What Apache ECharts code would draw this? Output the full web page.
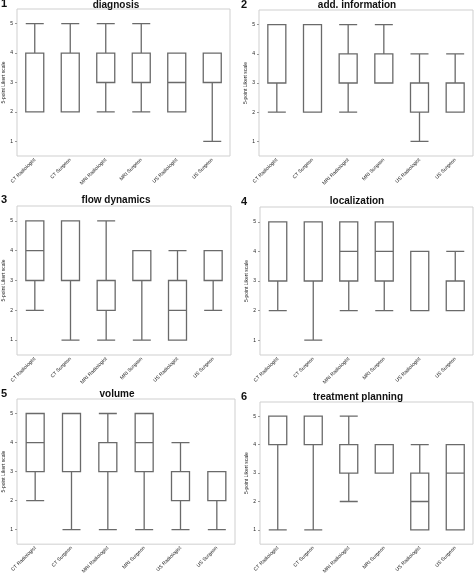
<!DOCTYPE html>
<html><head><meta charset="utf-8">
<script src="https://cdn.jsdelivr.net/npm/echarts@6/dist/echarts.min.js"></script>
<style>html,body{margin:0;padding:0;background:#fff}#c{width:474px;height:576px}</style>
</head><body><div id="c"></div>
<script>
const categories = ['CT Radiologist','CT Surgeon','MRI Radiologist','MRI Surgeon','US Radiologist','US Surgeon'];
const yTicks = [1,2,3,4,5];
const panelTitles = ['diagnosis','add. information','flow dynamics','localization','volume','treatment planning'];
const panelNumbers = ['1','2','3','4','5','6'];
// each box: [min, Q1, median, Q3, max]
const diagnosis = [[2,2,4,4,5],[2,2,4,4,5],[2,3,4,4,5],[2,3,4,4,5],[2,2,3,4,4],[1,3,4,4,4]];
const addInformation = [[2,3,5,5,5],[2,2,5,5,5],[2,3,4,4,5],[3,3,4,4,5],[1,2,3,3,4],[2,2,3,3,4]];
const flowDynamics = [[2,3,4,5,5],[1,3,5,5,5],[1,2,3,3,5],[1,3,4,4,4],[1,1,2,3,4],[2,3,4,4,4]];
const localization = [[2,3,5,5,5],[1,3,5,5,5],[2,3,4,5,5],[2,3,4,5,5],[2,2,4,4,4],[2,2,3,3,4]];
const volume = [[2,3,4,5,5],[1,3,5,5,5],[1,3,4,4,5],[1,3,4,5,5],[1,2,3,3,4],[1,2,3,3,3]];
const treatmentPlanning = [[1,4,5,5,5],[1,4,5,5,5],[2,3,4,4,5],[3,3,4,4,4],[1,1,2,3,4],[1,1,3,4,4]];
const panelData = [diagnosis, addInformation, flowDynamics, localization, volume, treatmentPlanning];

const grids = [
  {left:16, top:9, width:214, height:147},
  {left:259, top:10, width:214, height:146},
  {left:17, top:206, width:214, height:149},
  {left:260, top:207, width:213, height:148},
  {left:17, top:399, width:218, height:149},
  {left:260, top:402, width:213, height:147}
];
const titlePos = [[116,5],[357,5],[116,200],[357,201],[117,394],[358,397]];
const numPos = [[1,4],[241,5],[1,200],[241,202],[1,394],[241,397]];

const chart = echarts.init(document.getElementById('c'), null, {renderer:'canvas'});
const option = {
  animation:false,
  backgroundColor:'#fff',
  grid: grids.map(g => Object.assign({show:true, borderColor:'#cfcfcf', borderWidth:1, backgroundColor:'#fff'}, g)),
  xAxis: grids.map((g,i) => ({
    type:'category', gridIndex:i, data:categories, boundaryGap:true,
    axisLine:{show:false}, axisTick:{show:false}, splitLine:{show:false},
    axisLabel:{rotate:45, fontSize:5, color:'#222', margin:3, interval:0, fontFamily:'Liberation Sans'}
  })),
  yAxis: grids.map((g,i) => ({
    type:'value', gridIndex:i, min:0.5, max:5.5,
    name:'5-point Likert scale', nameLocation:'middle', nameGap:11, nameRotate:90,
    nameTextStyle:{fontSize:5, color:'#222', fontFamily:'Liberation Sans'},
    axisLine:{show:false}, splitLine:{show:false},
    axisTick:{show:true, length:2, lineStyle:{color:'#999'}, customValues:yTicks},
    axisLabel:{fontSize:5, color:'#222', margin:4, customValues:yTicks, fontFamily:'Liberation Sans'}
  })),
  series: panelData.map((d,i) => ({
    type:'boxplot', xAxisIndex:i, yAxisIndex:i, data:d,
    boxWidth:[18,18],
    itemStyle:{color:'#fff', borderColor:'#6a6a6a', borderWidth:1.3},
    emphasis:{disabled:true}
  })),
  graphic: [
    ...panelTitles.map((t,i) => ({
      type:'text', left:titlePos[i][0], top:titlePos[i][1],
      style:{text:t, x:0, y:0, textAlign:'center', textVerticalAlign:'middle', font:'bold 10px "Liberation Sans"', fill:'#111'}
    })),
    ...panelNumbers.map((t,i) => ({
      type:'text', x:numPos[i][0], y:numPos[i][1],
      style:{text:t, textAlign:'left', textVerticalAlign:'middle', font:'bold 11px "Liberation Sans"', fill:'#111'}
    }))
  ]
};
// titles use x/y for exact center placement
option.graphic.forEach((g,i) => { if (i < panelTitles.length) { g.x = titlePos[i][0]; g.y = titlePos[i][1]; delete g.left; delete g.top; } });
chart.setOption(option);
</script></body></html>
